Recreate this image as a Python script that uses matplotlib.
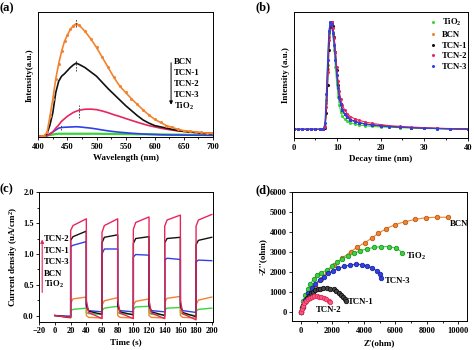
import matplotlib
matplotlib.use("Agg")
import matplotlib.pyplot as plt
from matplotlib.ticker import MultipleLocator

plt.rcParams.update({
    "font.family": ["Liberation Serif", "DejaVu Serif"],
    "font.weight": "bold",
    "axes.labelweight": "bold",
    "mathtext.fontset": "custom",
    "mathtext.rm": "Liberation Serif:bold",
    "mathtext.it": "Liberation Serif:bold:italic",
    "mathtext.bf": "Liberation Serif:bold",
    "axes.linewidth": 0.7,
})

ORANGE = "#f2832f"
GREEN = "#38d43a"
BLACK = "#111111"
RED = "#e8255c"
BLUE = "#3040e6"

# ---- (a) PL spectra ----
wl = [400, 405, 410, 415, 420, 425, 430, 435, 440, 445, 450, 455, 460, 465, 470,
      480, 490, 500, 510, 520, 530, 540, 550, 560, 570, 580, 590, 600, 610, 620,
      630, 640, 650, 660, 670, 680, 690, 700]
pl_bcn = [0.01, 0.01, 0.015, 0.04, 0.17, 0.31, 0.47, 0.59, 0.69, 0.77, 0.82, 0.865, 0.895, 0.91, 0.90,
          0.85, 0.79, 0.72, 0.64, 0.56, 0.48, 0.41, 0.36, 0.31, 0.265, 0.22, 0.18, 0.145, 0.12, 0.095,
          0.08, 0.065, 0.055, 0.05, 0.045, 0.04, 0.035, 0.033]
pl_tcn1 = [0.01, 0.01, 0.01, 0.03, 0.10, 0.20, 0.36, 0.45, 0.49, 0.51, 0.535, 0.56, 0.58, 0.595, 0.585,
           0.56, 0.525, 0.49, 0.44, 0.39, 0.345, 0.30, 0.255, 0.215, 0.175, 0.14, 0.115, 0.095, 0.085, 0.075,
           0.065, 0.055, 0.05, 0.045, 0.04, 0.035, 0.032, 0.03]
pl_tcn2 = [0.01, 0.01, 0.01, 0.015, 0.025, 0.045, 0.075, 0.10, 0.13, 0.15, 0.17, 0.185, 0.20, 0.21, 0.218,
           0.226, 0.227, 0.223, 0.212, 0.198, 0.182, 0.168, 0.152, 0.137, 0.122, 0.108, 0.095, 0.085, 0.075, 0.066,
           0.059, 0.053, 0.048, 0.044, 0.04, 0.037, 0.034, 0.032]
pl_tcn3 = [0.01, 0.01, 0.01, 0.015, 0.03, 0.045, 0.06, 0.075, 0.08, 0.082, 0.083, 0.084, 0.085, 0.086, 0.085,
           0.08, 0.075, 0.068, 0.06, 0.053, 0.047, 0.042, 0.038, 0.034, 0.031, 0.028, 0.026, 0.024, 0.022, 0.021,
           0.02, 0.02, 0.019, 0.019, 0.018, 0.018, 0.018, 0.017]
pl_tio2 = [0.01, 0.01, 0.012, 0.016, 0.02, 0.024, 0.028, 0.03, 0.03, 0.03, 0.03, 0.03, 0.03, 0.03, 0.03,
           0.03, 0.03, 0.03, 0.029, 0.029, 0.028, 0.028, 0.027, 0.027, 0.026, 0.026, 0.025, 0.025, 0.024, 0.024,
           0.023, 0.023, 0.022, 0.022, 0.021, 0.021, 0.02, 0.02]
peak_wl = [465, 465, 470, 439]
peak_lo = [0.88, 0.53, 0.155, 0.06]
peak_hi = [0.95, 0.62, 0.26, 0.10]
pl_labels = ["BCN", "TCN-1", "TCN-2", "TCN-3", "TiO$_2$"]

# ---- (b) decay ----
t_decay = [0, 1, 2, 3, 4, 5, 6, 6.8, 7.2, 7.5, 7.8, 8.1, 8.4, 8.7, 9.0, 9.3, 9.6, 9.9,
           10.2, 10.5, 10.8, 11.2, 11.7, 12.3, 13, 14, 15, 16.5, 18, 20, 22, 24.5, 27, 30, 33, 36, 40]
base = [0.071] * 8
dec_tio2 = base + [0.10, 0.30, 0.58, 0.83, 0.92, 0.90, 0.82, 0.70, 0.56, 0.43,
                   0.33, 0.26, 0.21, 0.175, 0.15, 0.135, 0.123, 0.113, 0.105, 0.099,
                   0.094, 0.090, 0.087, 0.084, 0.081, 0.078, 0.076, 0.074, 0.072]
dec_bcn = base + [0.09, 0.28, 0.55, 0.80, 0.91, 0.90, 0.84, 0.74, 0.62, 0.50,
                  0.40, 0.32, 0.27, 0.225, 0.19, 0.165, 0.148, 0.133, 0.122, 0.112,
                  0.105, 0.098, 0.093, 0.088, 0.084, 0.080, 0.077, 0.075, 0.073]
dec_tcn1 = base + [0.08, 0.20, 0.42, 0.70, 0.88, 0.92, 0.89, 0.80, 0.68, 0.54,
                   0.42, 0.33, 0.27, 0.225, 0.19, 0.165, 0.148, 0.135, 0.124, 0.113,
                   0.106, 0.099, 0.094, 0.089, 0.085, 0.081, 0.078, 0.075, 0.073]
dec_tcn2 = base + [0.09, 0.25, 0.52, 0.78, 0.91, 0.92, 0.87, 0.79, 0.68, 0.56,
                   0.45, 0.37, 0.31, 0.26, 0.225, 0.195, 0.172, 0.155, 0.142, 0.128,
                   0.118, 0.108, 0.100, 0.094, 0.089, 0.084, 0.080, 0.077, 0.074]
dec_tcn3 = base + [0.12, 0.35, 0.62, 0.85, 0.92, 0.90, 0.83, 0.74, 0.62, 0.50,
                   0.40, 0.32, 0.27, 0.225, 0.19, 0.165, 0.148, 0.132, 0.122, 0.112,
                   0.105, 0.098, 0.093, 0.088, 0.084, 0.080, 0.077, 0.075, 0.073]

# ---- (c) photocurrent ----
t_pc = [0, 20, 20, 23, 40, 40, 43, 60, 60, 63, 80, 80, 83, 100, 100, 103, 120, 120, 123,
        140, 140, 143, 160, 160, 163, 180, 180, 183, 200]
pc_tcn2 = [0.0, -0.03, 1.38, 1.46, 1.57, 0.25, 0.05, -0.05, 1.35, 1.46, 1.57, 0.25, 0.04, -0.05,
           1.40, 1.51, 1.60, 0.25, 0.04, -0.05, 1.45, 1.55, 1.63, 0.25, 0.03, -0.07, 1.45, 1.55, 1.64]
pc_tcn1 = [0.0, -0.03, 1.22, 1.28, 1.37, 0.18, 0.07, 0.02, 1.18, 1.27, 1.31, 0.18, 0.06, 0.01,
           1.17, 1.25, 1.28, 0.18, 0.06, 0.0, 1.18, 1.25, 1.27, 0.18, 0.05, -0.02, 1.15, 1.22, 1.27]
pc_tcn3 = [0.0, -0.01, 1.12, 1.14, 1.20, 0.14, 0.08, 0.06, 1.00, 1.08, 1.08, 0.14, 0.08, 0.06,
           0.95, 0.99, 0.98, 0.14, 0.08, 0.06, 0.90, 0.93, 0.91, 0.14, 0.08, 0.05, 0.87, 0.90, 0.89]
pc_bcn = [0.0, -0.04, 0.20, 0.27, 0.30, 0.0, -0.03, -0.04, 0.17, 0.24, 0.29, 0.0, -0.03, -0.04,
          0.17, 0.23, 0.27, 0.0, -0.03, -0.04, 0.22, 0.28, 0.31, 0.0, -0.03, -0.04, 0.18, 0.25, 0.30]
pc_tio2 = [0.0, -0.03, 0.08, 0.10, 0.12, 0.05, 0.03, 0.02, 0.08, 0.12, 0.15, 0.05, 0.03, 0.02,
           0.10, 0.14, 0.15, 0.05, 0.02, 0.01, 0.09, 0.12, 0.13, 0.05, 0.02, 0.0, 0.07, 0.10, 0.12]
pc_labels = ["TCN-2", "TCN-1", "TCN-3", "BCN", "TiO$_2$"]
pc_label_y = [1.24, 1.05, 0.87, 0.68, 0.50]

# ---- (d) Nyquist ----
zr_bcn = [0, 150, 350, 600, 900, 1250, 1650, 2100, 2600, 3160, 3590, 4060, 4490, 4920, 5420,
          5960, 6600, 7270, 7960, 8640, 9330]
zi_bcn = [0, 230, 550, 900, 1260, 1630, 1990, 2340, 2680, 3015, 3250, 3470, 3690, 3940, 4170,
          4370, 4520, 4640, 4725, 4745, 4745]
zr_tio2 = [0, 60, 150, 280, 430, 600, 800, 1020, 1300, 1650, 1980, 2300, 2620, 2990, 3380,
           3760, 4190, 4620, 5100, 5590, 6060, 6450]
zi_tio2 = [0, 250, 550, 850, 1130, 1400, 1640, 1830, 1960, 2095, 2300, 2480, 2650, 2800, 2930,
           3065, 3150, 3230, 3270, 3270, 3190, 2970]
zr_tcn3 = [0, 110, 260, 470, 690, 900, 1180, 1440, 1720, 2040, 2360, 2730, 3100, 3480, 3870,
           4200, 4520, 4800, 5000, 5100]
zi_tcn3 = [0, 250, 590, 920, 1180, 1390, 1590, 1760, 1930, 2050, 2180, 2270, 2340, 2380, 2370,
           2310, 2200, 2060, 1900, 1710]
zr_tcn1 = [0, 60, 150, 250, 370, 500, 620, 760, 900, 1060, 1230, 1420, 1640, 1860, 2080,
           2250, 2410, 2560, 2700, 2790, 2840]
zi_tcn1 = [0, 170, 340, 510, 670, 800, 920, 1010, 1080, 1130, 1160, 1170, 1170, 1150, 1120,
           1050, 960, 860, 750, 640, 540]
zr_tcn2 = [0, 50, 120, 200, 300, 420, 550, 700, 850, 1000, 1150, 1300, 1450, 1600, 1750, 1870]
zi_tcn2 = [0, 150, 300, 430, 540, 630, 700, 745, 765, 770, 760, 730, 690, 630, 560, 480]
eis_label_xy = [(9450, 4400), (6650, 2800), (5350, 1560), (2990, 500), (970, 90)]
eis_labels = ["BCN", "TiO$_2$", "TCN-3", "TCN-1", "TCN-2"]

W, H = 474, 350
fig = plt.figure(figsize=(W / 100, H / 100), dpi=100)


def box(x0, y0, x1, y1):
    return [x0 / W, 1 - y1 / H, (x1 - x0) / W, (y1 - y0) / H]


def style(ax):
    ax.tick_params(which="both", direction="out", width=0.6, labelsize=6, pad=1.5)
    ax.tick_params(which="major", length=2.5)
    ax.tick_params(which="minor", length=1.5)
    for lab in ax.get_xticklabels() + ax.get_yticklabels():
        lab.set_fontweight("bold")


ax_a = fig.add_axes(box(38.3, 12.5, 213, 137.5))
ax_b = fig.add_axes(box(293.7, 11.7, 467.7, 138.3))
ax_c = fig.add_axes(box(39.3, 192.3, 213.3, 321.7))
ax_d = fig.add_axes(box(292, 192.3, 467, 321.2))

# (a)
ax_a.plot(wl, pl_tio2, color=GREEN, lw=1.6)
ax_a.plot(wl, pl_tcn3, color=BLUE, lw=1.2)
ax_a.plot(wl, pl_tcn2, color=RED, lw=1.2)
ax_a.plot(wl, pl_tcn1, color=BLACK, lw=1.2)
ax_a.plot(wl, pl_bcn, color=ORANGE, lw=1.2, marker="o", ms=1.2)
ax_a.vlines(peak_wl, peak_lo, peak_hi, colors="#333333", linestyles=(0, (2, 1.5)), lw=0.6)
ax_a.set_xlim(400, 700)
ax_a.set_ylim(0, 1)
ax_a.set_yticks([])
ax_a.xaxis.set_major_locator(MultipleLocator(50))
ax_a.xaxis.set_minor_locator(MultipleLocator(25))
ax_a.set_xlabel("Wavelength (nm)", fontsize=6.5, labelpad=2)
ax_a.set_ylabel("Intensity(a.u.)", fontsize=6.5, labelpad=3)
ax_a.annotate("", xy=(0.76, 0.24), xytext=(0.76, 0.62), xycoords="axes fraction",
              arrowprops=dict(arrowstyle="-|>", lw=0.7, color="k", mutation_scale=5))
for i, lab in enumerate(pl_labels):
    ax_a.text(0.775, 0.60 - i * 0.087, lab, transform=ax_a.transAxes, fontsize=6.3,
              fontweight="bold", va="center", ha="left")
style(ax_a)

# (b)
for vals, col, lab in [(dec_tio2, GREEN, "TiO$_2$"), (dec_bcn, ORANGE, "BCN"),
                       (dec_tcn1, BLACK, "TCN-1"), (dec_tcn2, RED, "TCN-2"),
                       (dec_tcn3, BLUE, "TCN-3")]:
    ax_b.plot(t_decay, vals, color=col, lw=0.8, marker="o", ms=2.2, mew=0, label=lab)
ax_b.set_xlim(0, 40)
ax_b.set_ylim(0, 1)
ax_b.set_yticks([])
ax_b.xaxis.set_major_locator(MultipleLocator(10))
ax_b.xaxis.set_minor_locator(MultipleLocator(5))
ax_b.set_xlabel("Decay time (nm)", fontsize=6.5, labelpad=2)
ax_b.set_ylabel("Intensity (a.u.)", fontsize=6.5, labelpad=3)
leg = ax_b.legend(loc="upper left", bbox_to_anchor=(0.75, 1.0), frameon=False,
                  handlelength=0.8, handletextpad=0.6, labelspacing=0.3, borderaxespad=0.25,
                  prop={"weight": "bold", "size": 6.2})
for h in leg.get_lines():
    h.set_linestyle("none")
style(ax_b)

# (c)
ax_c.plot(t_pc, pc_tio2, color=GREEN, lw=1.0)
ax_c.plot(t_pc, pc_bcn, color=ORANGE, lw=1.0)
ax_c.plot(t_pc, pc_tcn3, color=BLUE, lw=1.0)
ax_c.plot(t_pc, pc_tcn1, color=BLACK, lw=1.0)
ax_c.plot(t_pc, pc_tcn2, color=RED, lw=1.0)
ax_c.set_xticks(range(-20, 201, 20))
ax_c.yaxis.set_major_locator(MultipleLocator(0.5))
ax_c.yaxis.set_minor_locator(MultipleLocator(0.25))
ax_c.set_xlim(-20, 202)
ax_c.set_ylim(-0.1, 2.0)
ax_c.yaxis.set_major_formatter(matplotlib.ticker.FormatStrFormatter("%.1f"))
ax_c.set_xlabel("Time (s)", fontsize=6.5, labelpad=2)
ax_c.set_ylabel("Current density (uA/cm$^2$)", fontsize=6.5, labelpad=2)
ax_c.annotate("", xy=(-16.3, 1.28), xytext=(-16.3, 0.33),
              arrowprops=dict(arrowstyle="-|>", lw=0.8, color=RED, mutation_scale=5))
for lab, yv in zip(pc_labels, pc_label_y):
    ax_c.text(-14.5, yv, lab, fontsize=6.3, fontweight="bold", va="center", ha="left")
style(ax_c)

# (d)
for zr, zi, col, edge in [(zr_bcn, zi_bcn, ORANGE, "#b85a18"), (zr_tio2, zi_tio2, GREEN, "#22922a"),
                          (zr_tcn3, zi_tcn3, BLUE, "#1c2899"), (zr_tcn1, zi_tcn1, "#444444", BLACK),
                          (zr_tcn2, zi_tcn2, "#f0607e", RED)]:
    ax_d.plot(zr, zi, color=col, lw=0.8, marker="o", ms=3.2, mfc=col, mec=edge, mew=0.6)
ax_d.xaxis.set_major_locator(MultipleLocator(2000))
ax_d.xaxis.set_minor_locator(MultipleLocator(1000))
ax_d.yaxis.set_major_locator(MultipleLocator(1000))
ax_d.set_xlim(-570, 10550)
ax_d.set_ylim(-480, 6000)
ax_d.set_xlabel("Z'(ohm)", fontsize=6.5, labelpad=3)
ax_d.set_ylabel("-Z''(ohm)", fontsize=6.5, labelpad=2)
for (x, y), lab in zip(eis_label_xy, eis_labels):
    ax_d.text(x, y, lab, fontsize=6.3, fontweight="bold", va="center", ha="left")
style(ax_d)

for x, y, s in [(0, 8, "(a)"), (255, 7, "(b)"), (0, 189, "(c)"), (255, 190, "(d)")]:
    fig.text(x / W, 1 - y / H, s, fontsize=9, fontweight="bold", va="center", ha="left")

fig.savefig("out.png", dpi=100)
